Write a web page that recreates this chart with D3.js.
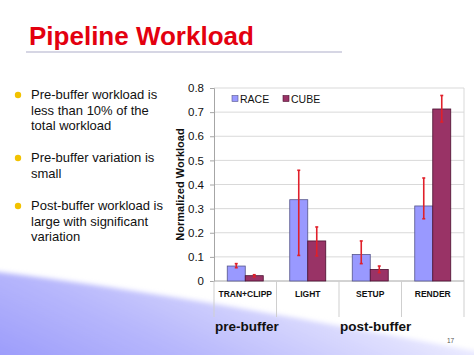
<!DOCTYPE html>
<html>
<head>
<meta charset="utf-8">
<script src="https://cdn.jsdelivr.net/npm/d3@7"></script>
<style>
  body { margin: 0; background: #fff; }
  svg { display: block; font-family: "Liberation Sans", Arial, sans-serif; }
</style>
</head>
<body>
<div id="chart"></div>
<script>
const categories = ['TRAN+CLIPP', 'LIGHT', 'SETUP', 'RENDER'];
const seriesNames = ['RACE', 'CUBE'];
const raceValues = [0.062, 0.337, 0.11, 0.311];
const cubeValues = [0.022, 0.166, 0.048, 0.713];
const raceLow = [0.055, 0.106, 0.072, 0.258];
const raceHigh = [0.072, 0.459, 0.166, 0.427];
const cubeLow = [0.017, 0.104, 0.035, 0.659];
const cubeHigh = [0.026, 0.224, 0.062, 0.769];
const yTicks = [0, 0.1, 0.2, 0.3, 0.4, 0.5, 0.6, 0.7, 0.8];
const bullets = [
  ['Pre-buffer workload is', 'less than 10% of the', 'total workload'],
  ['Pre-buffer variation is', 'small'],
  ['Post-buffer workload is', 'large with significant', 'variation']
];

const W = 474, H = 355;
const plot = { left: 214, right: 464, top: 88, bottom: 281 };
const colors = { RACE: '#9999ff', CUBE: '#993366' };
const strokes = { RACE: '#55558a', CUBE: '#4a1030' };

const svg = d3.select('#chart')
  .append('svg')
  .attr('width', W)
  .attr('height', H);

// lavender swoosh at the bottom left
const defs = svg.append('defs');
const grad = defs.append('linearGradient')
  .attr('id', 'swoosh')
  .attr('x1', 0).attr('y1', 1).attr('x2', 1).attr('y2', 0.6);
grad.append('stop').attr('offset', '0%').attr('stop-color', '#9999fb');
grad.append('stop').attr('offset', '40%').attr('stop-color', '#b8b8fc');
grad.append('stop').attr('offset', '100%').attr('stop-color', '#f4f4ff');
defs.append('filter').attr('id', 'soft')
  .append('feGaussianBlur').attr('stdDeviation', 2.5);

svg.append('path')
  .attr('d', 'M-10,271 C150,290 320,322 480,352 L480,365 L-10,365 Z')
  .attr('fill', 'url(#swoosh)')
  .attr('filter', 'url(#soft)');

// title
svg.append('text')
  .attr('x', 29).attr('y', 45)
  .attr('font-size', 26)
  .attr('font-weight', 'bold')
  .attr('fill', '#e3000f')
  .text('Pipeline Workload');

svg.append('line')
  .attr('x1', 26).attr('x2', 342)
  .attr('y1', 52).attr('y2', 52)
  .attr('stroke', '#d6d6e4')
  .attr('stroke-width', 2);

// bullets
const bulletTops = [99, 162, 210];
bullets.forEach((lines, i) => {
  svg.append('circle')
    .attr('cx', 18).attr('cy', bulletTops[i] - 4)
    .attr('r', 3.2)
    .attr('fill', '#f2c200');
  const t = svg.append('text')
    .attr('x', 31).attr('y', bulletTops[i])
    .attr('font-size', 13)
    .attr('fill', '#111');
  lines.forEach((l, j) => {
    t.append('tspan').attr('x', 31).attr('dy', j === 0 ? 0 : 15.5).text(l);
  });
});

// scales
const x = d3.scaleBand().domain(categories).range([plot.left, plot.right]);
const xs = d3.scaleBand().domain(seriesNames).range([0, x.bandwidth()]).paddingOuter(0.736);
const y = d3.scaleLinear().domain([0, 0.8]).range([plot.bottom, plot.top]);

// gridlines
svg.append('g')
  .selectAll('line')
  .data(yTicks.slice(1))
  .join('line')
  .attr('x1', plot.left).attr('x2', plot.right)
  .attr('y1', d => y(d)).attr('y2', d => y(d))
  .attr('stroke', '#d9d9d9');

svg.append('line')
  .attr('x1', plot.right).attr('x2', plot.right)
  .attr('y1', plot.top).attr('y2', plot.bottom)
  .attr('stroke', '#d9d9d9');

// y axis
const yAxis = svg.append('g')
  .attr('transform', `translate(${plot.left},0)`)
  .call(d3.axisLeft(y).tickValues(yTicks).tickSize(4).tickPadding(6).tickFormat(d => d === 0 ? '0' : d3.format('.1f')(d)));
yAxis.select('.domain').attr('stroke', '#a6a6a6');
yAxis.selectAll('.tick line').attr('stroke', '#a6a6a6');
yAxis.selectAll('.tick text')
  .attr('font-family', '"Liberation Sans", Arial, sans-serif')
  .attr('font-size', 11.5)
  .attr('fill', '#111');

svg.append('text')
  .attr('transform', `translate(184,${(plot.top + plot.bottom) / 2}) rotate(-90)`)
  .attr('text-anchor', 'middle')
  .attr('font-size', 11)
  .attr('font-weight', 'bold')
  .attr('fill', '#111')
  .text('Normalized Workload');

// x axis: separators and labels
const xAxis = svg.append('g');
xAxis.append('line')
  .attr('x1', plot.left).attr('x2', plot.right)
  .attr('y1', plot.bottom).attr('y2', plot.bottom)
  .attr('stroke', '#a6a6a6');
xAxis.selectAll('line.sep')
  .data(categories.concat(['end']))
  .join('line')
  .attr('class', 'sep')
  .attr('x1', (d, i) => i < categories.length ? x(d) : plot.right)
  .attr('x2', (d, i) => i < categories.length ? x(d) : plot.right)
  .attr('y1', plot.bottom).attr('y2', plot.bottom + 36)
  .attr('stroke', '#cfcfcf');
xAxis.selectAll('text')
  .data(categories)
  .join('text')
  .attr('x', d => x(d) + x.bandwidth() / 2)
  .attr('y', 297)
  .attr('text-anchor', 'middle')
  .attr('font-size', 8.5)
  .attr('font-weight', 'bold')
  .attr('fill', '#111')
  .text(d => d);

// bars
const seriesData = seriesNames.map(s => ({
  name: s,
  values: categories.map((c, i) => ({
    cat: c,
    v: s === 'RACE' ? raceValues[i] : cubeValues[i],
    lo: s === 'RACE' ? raceLow[i] : cubeLow[i],
    hi: s === 'RACE' ? raceHigh[i] : cubeHigh[i]
  }))
}));

const groups = svg.append('g')
  .selectAll('g')
  .data(seriesData)
  .join('g');

groups.selectAll('rect')
  .data(s => s.values.map(d => ({ ...d, s: s.name })))
  .join('rect')
  .attr('x', d => x(d.cat) + xs(d.s))
  .attr('y', d => y(d.v))
  .attr('width', xs.bandwidth())
  .attr('height', d => y(0) - y(d.v))
  .attr('fill', d => colors[d.s])
  .attr('stroke', d => strokes[d.s])
  .attr('stroke-width', 0.8);

// error bars
const errs = groups.selectAll('g.err')
  .data(s => s.values.map(d => ({ ...d, s: s.name })))
  .join('g')
  .attr('class', 'err')
  .attr('stroke', '#e0202a')
  .attr('stroke-width', 1.6);
errs.append('line')
  .attr('x1', d => x(d.cat) + xs(d.s) + xs.bandwidth() / 2)
  .attr('x2', d => x(d.cat) + xs(d.s) + xs.bandwidth() / 2)
  .attr('y1', d => y(d.lo)).attr('y2', d => y(d.hi));
['lo', 'hi'].forEach(k => {
  errs.append('line')
    .attr('x1', d => x(d.cat) + xs(d.s) + xs.bandwidth() / 2 - 1.5)
    .attr('x2', d => x(d.cat) + xs(d.s) + xs.bandwidth() / 2 + 1.5)
    .attr('y1', d => y(d[k])).attr('y2', d => y(d[k]));
});

// legend
const legendX = [232, 283];
seriesNames.forEach((s, i) => {
  svg.append('rect')
    .attr('x', legendX[i]).attr('y', 95.5)
    .attr('width', 6).attr('height', 6)
    .attr('fill', colors[s])
    .attr('stroke', strokes[s])
    .attr('stroke-width', 0.6);
  svg.append('text')
    .attr('x', legendX[i] + 8).attr('y', 102.5)
    .attr('font-size', 10.5)
    .attr('fill', '#111')
    .text(s);
});

// group labels
svg.append('text')
  .attr('x', 215).attr('y', 331)
  .attr('font-size', 13.5).attr('font-weight', 'bold').attr('fill', '#111')
  .text('pre-buffer');
svg.append('text')
  .attr('x', 340).attr('y', 331)
  .attr('font-size', 13.5).attr('font-weight', 'bold').attr('fill', '#111')
  .text('post-buffer');

svg.append('text')
  .attr('x', 447).attr('y', 343)
  .attr('font-size', 6.5).attr('fill', '#555')
  .text('17');
</script>
</body>
</html>
